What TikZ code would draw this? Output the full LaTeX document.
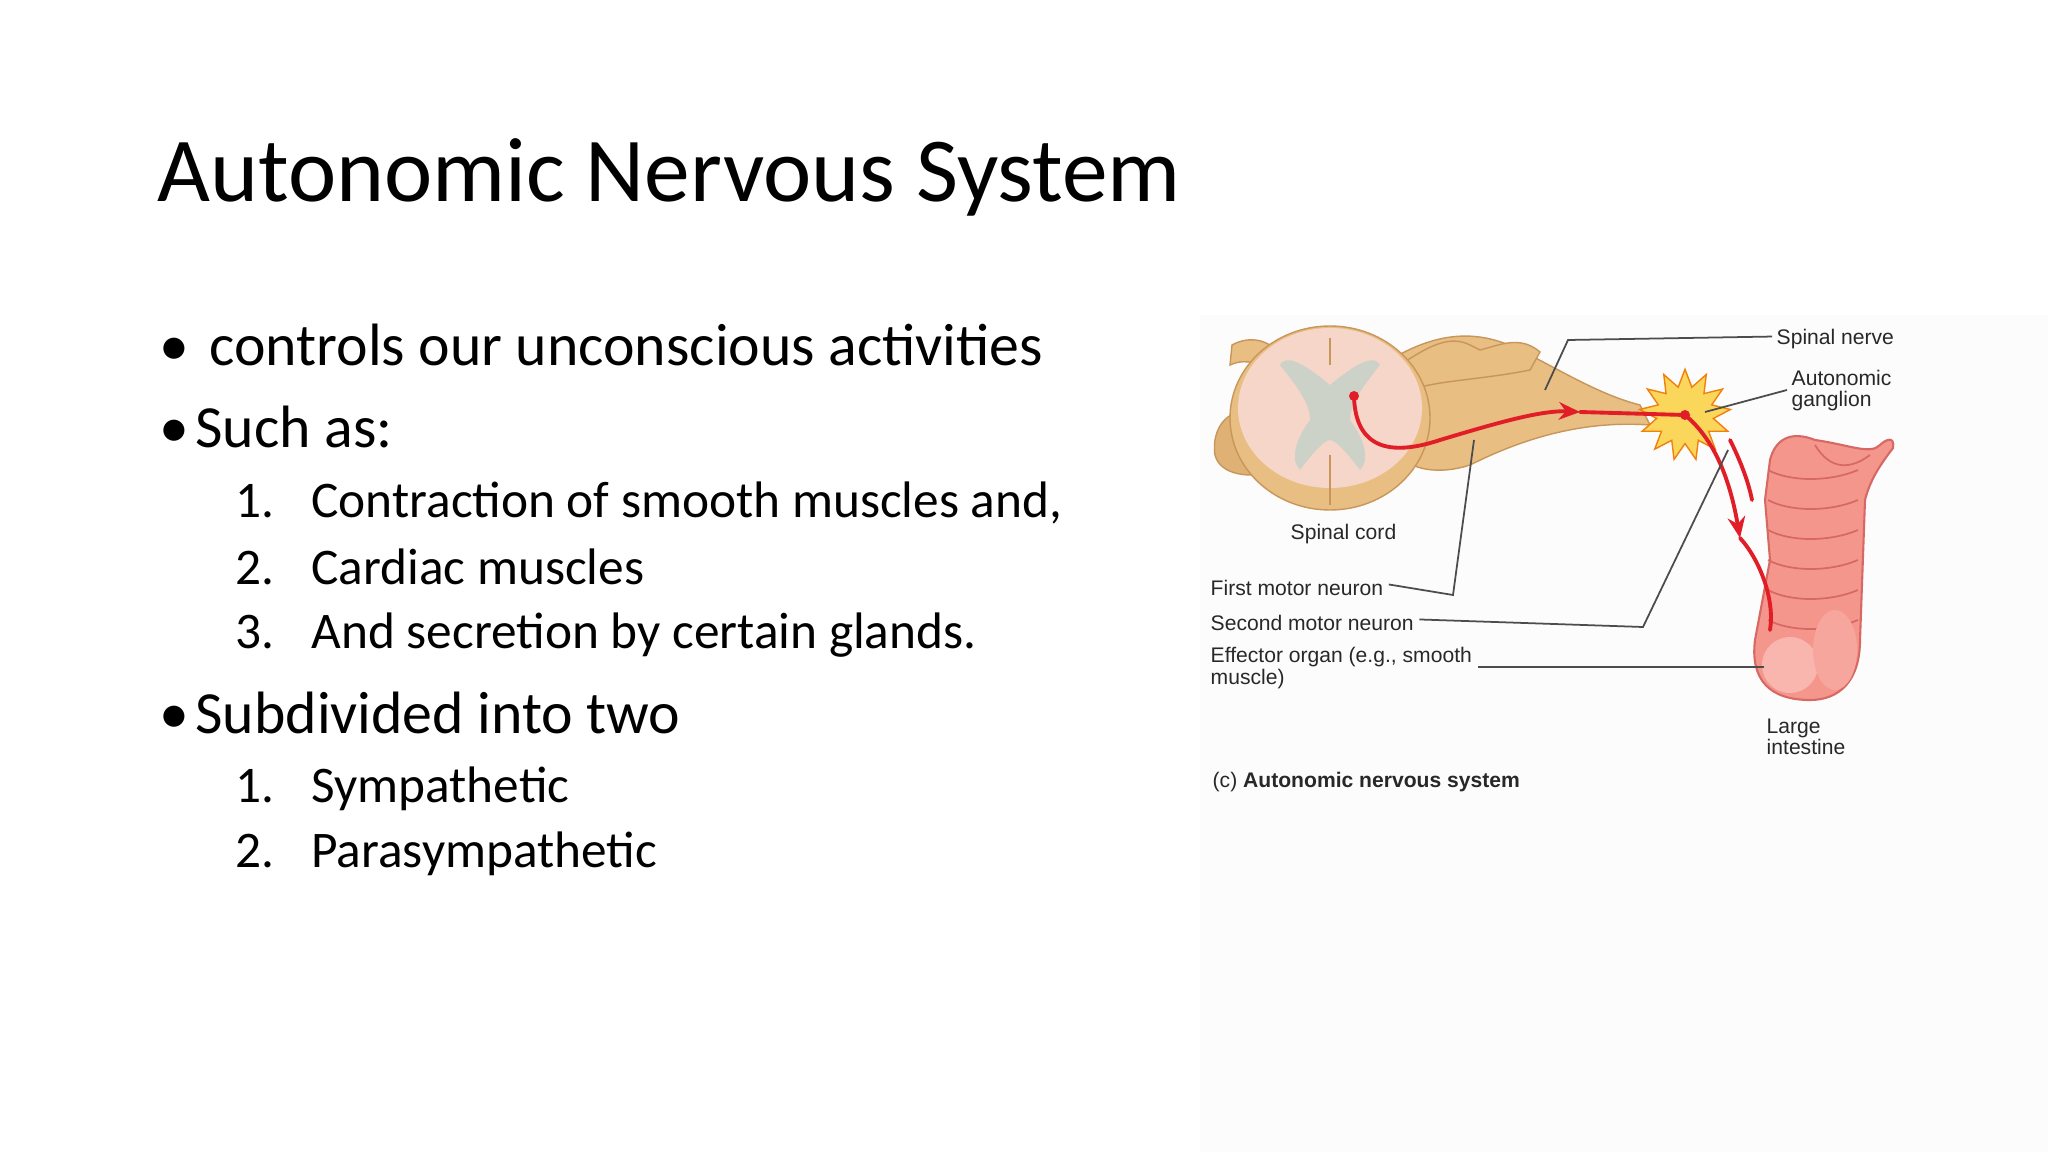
\documentclass[tikz,border=0pt]{standalone}
\usepackage{fontspec}
\setmainfont{Carlito}
\newfontfamily\arial{Liberation Sans}
\usetikzlibrary{arrows.meta,shapes.geometric,shapes.misc}
\definecolor{cordpink}{RGB}{246,214,200}
\definecolor{cordgrey}{RGB}{205,210,200}
\definecolor{tan}{RGB}{232,190,130}
\definecolor{tandark}{RGB}{200,150,90}
\definecolor{gang}{RGB}{250,215,90}
\definecolor{intest}{RGB}{245,150,140}
\definecolor{intestd}{RGB}{215,105,100}
\definecolor{nred}{RGB}{225,30,40}
\definecolor{lbl}{RGB}{40,40,40}
\definecolor{bgpanel}{RGB}{252,252,252}
\tikzset{
  title/.style={anchor=base west,font=\fontsize{26}{31}\selectfont},
  lone/.style={anchor=base west,font=\fontsize{17}{20}\selectfont},
  ltwo/.style={anchor=base west,font=\fontsize{14.6}{18}\selectfont},
  lab/.style={anchor=base west,font=\arial\fontsize{6}{7}\selectfont,text=lbl,inner sep=0pt,align=left},
  leader/.style={draw=black!70,line width=0.5pt},
  neuron/.style={draw=nred,line width=1.1pt,line cap=round},
  narrow/.style={-{Stealth[length=6pt,width=5pt]},neuron}
}
\begin{document}
\begin{tikzpicture}[x=0.01cm,y=-0.01cm]
\useasboundingbox (0,0) rectangle (2048,1152);
\fill[white] (0,0) rectangle (2048,1152);
\fill[bgpanel] (1200,315) rectangle (2048,1152);
% text
\node[title] (t) at (145,202) {Autonomic Nervous System};
\node[lone] (b1d) at (147,366) {•};
\node[lone] (b1) at (197,366) {controls our unconscious activities};
\node[lone] (b2d) at (147,448) {•};
\node[lone] (b2) at (183,448) {Such as:};
\node[ltwo] (n1) at (223,518) {1.};
\node[ltwo] (i1) at (299,518) {Contraction of smooth muscles and,};
\node[ltwo] (n2) at (223,584) {2.};
\node[ltwo] (i2) at (299,584) {Cardiac muscles};
\node[ltwo] (n3) at (223,649) {3.};
\node[ltwo] (i3) at (299,649) {And secretion by certain glands.};
\node[lone] (b3d) at (147,733) {•};
\node[lone] (b3) at (183,733) {Subdivided into two};
\node[ltwo] (n4) at (223,802) {1.};
\node[ltwo] (i4) at (299,802) {Sympathetic};
\node[ltwo] (n5) at (223,867) {2.};
\node[ltwo] (i5) at (299,867) {Parasympathetic};
% nerve roots
\fill[tan,draw=tandark,line width=0.4pt] (1390,360) .. controls (1440,330) and (1480,330) .. (1520,350)
  .. controls (1560,370) and (1600,395) .. (1640,405) -- (1650,425)
  .. controls (1580,420) and (1520,440) .. (1470,465)
  .. controls (1440,475) and (1410,470) .. (1400,455) -- cycle;
\fill[tan,draw=tandark,line width=0.4pt] (1400,365) .. controls (1430,345) and (1450,335) .. (1470,345) -- (1480,350)
  .. controls (1500,345) and (1520,335) .. (1540,352) -- (1530,370) .. controls (1480,380) and (1440,380) .. (1410,390) -- cycle;
\fill[tan,draw=tandark,line width=0.4pt] (1232,345) .. controls (1250,335) and (1270,340) .. (1280,355) -- (1270,370) .. controls (1255,360) and (1240,360) .. (1230,365) -- cycle;
\fill[tan!80!brown,draw=tandark,line width=0.4pt] (1215,455) .. controls (1210,420) and (1240,400) .. (1260,420) -- (1280,470) .. controls (1250,480) and (1220,475) .. (1215,455);
% spinal cord
\fill[tan,draw=tandark,line width=0.4pt] (1330,418) ellipse (100 and 92);
\fill[cordpink] (1330,408) ellipse (92 and 80);
\fill[cordgrey] (1330,385) .. controls (1300,360) and (1285,355) .. (1280,365) .. controls (1300,390) and (1310,405) .. (1310,420)
  .. controls (1295,440) and (1290,460) .. (1300,470) .. controls (1315,450) and (1325,440) .. (1330,440)
  .. controls (1335,440) and (1345,450) .. (1360,470) .. controls (1370,460) and (1365,440) .. (1350,420)
  .. controls (1350,405) and (1360,390) .. (1380,365) .. controls (1375,355) and (1360,360) .. (1330,385);
\draw[tandark,line width=0.6pt] (1330,338) -- (1330,365) (1330,455) -- (1330,505);
% ganglion
\node[star,star points=13,star point ratio=1.6,fill=gang,draw=orange!80!brown,line width=0.4pt,minimum size=26pt,inner sep=0pt] (g) at (1685,415) {};
% large intestine
\fill[intest,draw=intestd,line width=0.6pt] (1770,460) .. controls (1775,440) and (1790,430) .. (1815,440)
  .. controls (1850,445) and (1870,455) .. (1880,445) .. controls (1885,440) and (1895,435) .. (1893,448)
  .. controls (1880,465) and (1870,480) .. (1865,500) -- (1860,640)
  .. controls (1860,680) and (1840,700) .. (1810,700) .. controls (1770,700) and (1750,680) .. (1755,640)
  -- (1770,560) -- (1765,500) -- cycle;
\foreach \yy in {470,500,530,560,590,620}{
  \draw[intestd,line width=0.5pt] (1768,\yy) .. controls (1790,\yy+12) and (1830,\yy+12) .. (1858,\yy);}
\draw[intestd,line width=0.5pt] (1815,445) .. controls (1830,470) and (1850,470) .. (1870,455);
\fill[intest!70!white] (1790,665) circle (28);
\fill[intest!85!white] (1835,650) ellipse (22 and 40);
% neurons
\fill[nred] (1354,396) circle (5);
\coordinate (mid1) at (1580,412);
\draw[narrow] (1354,396) .. controls (1355,440) and (1380,460) .. (1440,440) .. controls (1490,425) and (1540,410) .. (mid1);
\draw[neuron] (mid1) -- (g.center);
\fill[nred] (g.center) circle (5);
\coordinate (ar2) at (1740,538);
\draw[narrow] (g.center) .. controls (1715,440) and (1730,480) .. (ar2);
\draw[neuron] (ar2) .. controls (1760,560) and (1775,600) .. (1770,630);
\draw[neuron] (1730,440) .. controls (1745,470) and (1750,490) .. (1752,500);
% labels
\node[lab] (sn) at (1776,345) {Spinal nerve};
\node[lab] (ag) at (1791,407) {Autonomic\\[-1pt]ganglion};
\node[lab] (sc) at (1290,540) {Spinal cord};
\node[lab] (fm) at (1210,595) {First motor neuron};
\node[lab] (sm) at (1210,630) {Second motor neuron};
\node[lab,anchor=north west] (eo) at (1210,647) {Effector organ (e.g., smooth\\[-1pt]muscle)};
\node[lab,anchor=north west] (li) at (1766,718) {Large\\[-1pt]intestine};
\node[lab] (cap) at (1212,787) {(c) \textbf{Autonomic nervous system}};
\coordinate (snk) at (1568,340);
\draw[leader] (sn.west) ++(-4,-3) -- (snk) -- (1545,390);
\draw[leader] (1787,390) -- (1705,412);
\coordinate (fmk) at (1453,595);
\draw[leader] (fm.east) ++(5,-3) -- (fmk) -- (1474,440);
\coordinate (smk) at (1643,627);
\draw[leader] (sm.east) ++(5,-3) -- (smk) -- (1728,450);
\draw[leader] (1478,667) -- (1764,667);
\end{tikzpicture}
\end{document}
